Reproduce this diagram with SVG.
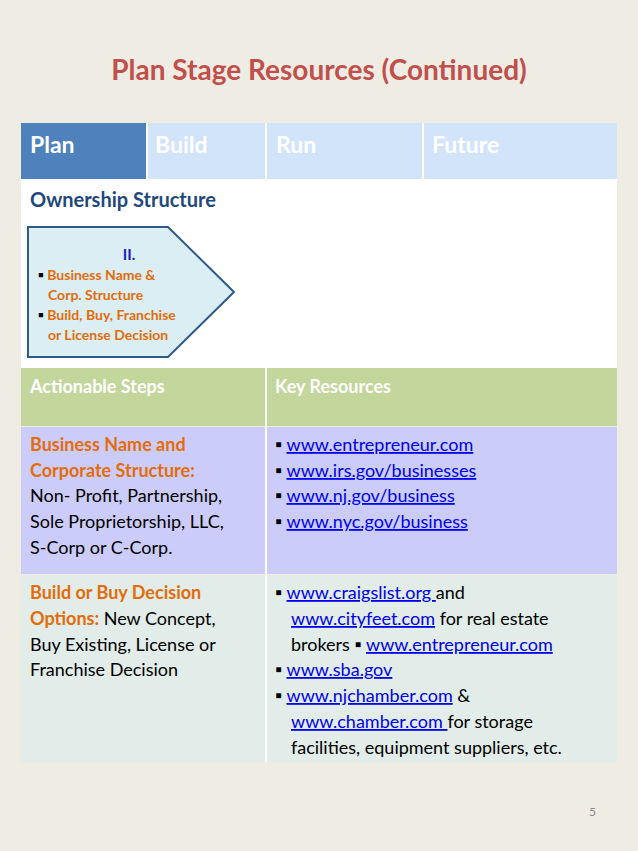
<svg xmlns="http://www.w3.org/2000/svg" width="638" height="851" viewBox="0 0 638 851">
<style>
text{font-family:Lato,"Open Sans","Liberation Sans",sans-serif}
.h{font-size:23px;font-weight:bold;fill:#fff}
.b{font-size:18px;fill:#000}
.o{font-weight:bold;fill:#e46c0a}
.l{fill:#0000ee;text-decoration:underline}
.s{font-size:14px;font-weight:bold;fill:#e46c0a}
</style>
<rect width="638" height="851" fill="#efede3"/>
<text x="319" y="80" text-anchor="middle" font-size="28" font-weight="bold" fill="#c0504d">Plan Stage Resources (Continued)</text>
<g id="tabs">
<rect x="21" y="123" width="126" height="56" fill="#4f81bd"/>
<rect x="147" y="123" width="470" height="56" fill="#d2e4f9"/>
<line x1="266" y1="123" x2="266" y2="179" stroke="#fff" stroke-width="2"/>
<line x1="423" y1="123" x2="423" y2="179" stroke="#fff" stroke-width="2"/>
<line x1="147" y1="123" x2="147" y2="179" stroke="#fff" stroke-width="2"/>
<text class="h" x="30" y="153">Plan</text>
<text class="h" x="155" y="153">Build</text>
<text class="h" x="276" y="153">Run</text>
<text class="h" x="432" y="153">Future</text>
</g>
<g id="ownership">
<rect x="21" y="179" width="596" height="189" fill="#fff"/>
<text x="30" y="207" font-size="20" font-weight="bold" fill="#1f497d">Ownership Structure</text>
<polygon points="28,227 168,227 234,292 168,357 28,357" fill="#daeef3" stroke="#2e5a8a" stroke-width="2"/>
<text x="129" y="260" text-anchor="middle" font-size="15" font-weight="bold" fill="#1a1acd">II.</text>
<text class="s" x="38" y="280"><tspan fill="#000">▪ </tspan>Business Name &amp;</text>
<text class="s" x="48" y="300">Corp. Structure</text>
<text class="s" x="38" y="320"><tspan fill="#000">▪ </tspan>Build, Buy, Franchise</text>
<text class="s" x="48" y="340">or License Decision</text>
</g>
<g id="steps-header">
<rect x="21" y="368" width="596" height="58" fill="#c3d69b"/>
<line x1="266" y1="368" x2="266" y2="426" stroke="#fff" stroke-width="2"/>
<text x="30" y="393" font-size="18" font-weight="bold" fill="#fff">Actionable Steps</text>
<text x="275" y="393" font-size="18" font-weight="bold" fill="#fff">Key Resources</text>
</g>
<g id="row1">
<rect x="21" y="427" width="596" height="147" fill="#ccccfa"/>
<line x1="266" y1="427" x2="266" y2="574" stroke="#fff" stroke-width="2"/>
<text class="b o" x="30" y="451">Business Name and</text>
<text class="b o" x="30" y="477">Corporate Structure:</text>
<text class="b" x="30" y="502">Non- Profit, Partnership,</text>
<text class="b" x="30" y="528">Sole Proprietorship, LLC,</text>
<text class="b" x="30" y="554">S-Corp or C-Corp.</text>
<text class="b" x="275" y="451">▪ <tspan class="l">www.entrepreneur.com</tspan></text>
<text class="b" x="275" y="477">▪ <tspan class="l">www.irs.gov/businesses</tspan></text>
<text class="b" x="275" y="502">▪ <tspan class="l">www.nj.gov/business</tspan></text>
<text class="b" x="275" y="528">▪ <tspan class="l">www.nyc.gov/business</tspan></text>
</g>
<g id="row2">
<rect x="21" y="575" width="596" height="187" fill="#e2ece8"/>
<line x1="266" y1="575" x2="266" y2="762" stroke="#fff" stroke-width="2"/>
<text class="b o" x="30" y="599">Build or Buy Decision</text>
<text class="b" x="30" y="625"><tspan class="o">Options:</tspan> New Concept,</text>
<text class="b" x="30" y="651">Buy Existing, License or</text>
<text class="b" x="30" y="676">Franchise Decision</text>
<text class="b" x="275" y="599">▪ <tspan class="l">www.craigslist.org </tspan>and</text>
<text class="b" x="291" y="625"><tspan class="l">www.cityfeet.com</tspan> for real estate</text>
<text class="b" x="291" y="651">brokers ▪ <tspan class="l">www.entrepreneur.com</tspan></text>
<text class="b" x="275" y="676">▪ <tspan class="l">www.sba.gov</tspan></text>
<text class="b" x="275" y="702">▪ <tspan class="l">www.njchamber.com</tspan> &amp;</text>
<text class="b" x="291" y="728"><tspan class="l">www.chamber.com </tspan>for storage</text>
<text class="b" x="291" y="754">facilities, equipment suppliers, etc.</text>
</g>
<text x="596" y="816" text-anchor="end" font-size="12" fill="#888">5</text>
</svg>
